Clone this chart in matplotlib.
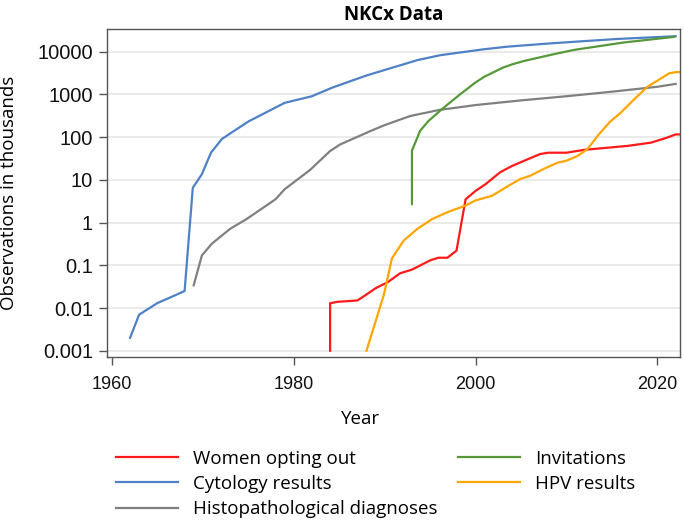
import matplotlib
matplotlib.use("Agg")
from matplotlib import pyplot as plt

# Cumulative observations (thousands) per data source
cyto_years = [1962, 1963, 1965, 1967, 1968, 1968.9, 1969.9, 1970.9, 1972.1, 1975, 1979, 1982,
              1984.3, 1988, 1990, 1993.6, 1996.1, 2000.9, 2003.5, 2008.2, 2011.9, 2015.6, 2019, 2022]
cyto_vals = [0.002, 0.007, 0.013, 0.02, 0.025, 6.5, 13.5, 43, 90, 230, 630, 900,
             1450, 2750, 3700, 6300, 8200, 11300, 13000, 15500, 17500, 19700, 21300, 22800]

histo_years = [1969, 1969.9, 1971, 1973, 1974.8, 1978, 1979, 1981.8, 1984, 1985.1, 1988.4,
               1990, 1992.8, 1996, 1998.3, 2000, 2005, 2010, 2015, 2020, 2022]
histo_vals = [0.034, 0.17, 0.32, 0.71, 1.2, 3.5, 6, 17, 47, 67, 137,
              190, 310, 430, 500, 560, 720, 900, 1150, 1500, 1750]

invit_years = [1993, 1993, 1993.9, 1994.8, 1996.3, 1998.3, 1999, 2000, 2001, 2002, 2003,
               2004, 2005.3, 2008.2, 2010.8, 2016.3, 2021.8]
invit_vals = [2.7, 48, 140, 235, 450, 1000, 1300, 1900, 2600, 3300, 4200,
              5000, 6000, 8300, 10900, 16300, 22000]

optout_years = [1984, 1984, 1984.9, 1987, 1987.9, 1989, 1990.4, 1991.7, 1993, 1995, 1995.9,
                1996.9, 1997.9, 1998.9, 2000, 2001.1, 2002.7, 2004, 2005.7, 2007.1, 2008,
                2010, 2011.9, 2016.7, 2019.3, 2021, 2022, 2022.5]
optout_vals = [0.001, 0.013, 0.014, 0.015, 0.02, 0.029, 0.041, 0.065, 0.079, 0.13, 0.15,
               0.15, 0.22, 3.5, 5.5, 7.9, 15, 21, 30, 40, 43,
               43, 50, 62, 74, 96, 115, 115]

hpv_years = [1988, 1989.9, 1990.8, 1992.1, 1993.6, 1995.2, 1996.9, 1998.9, 2000, 2001.8,
             2003.3, 2004.9, 2006, 2007.5, 2009, 2010, 2011.2, 2012.3, 2013.5, 2014.8,
             2015.9, 2017.4, 2018.9, 2021.3, 2022, 2022.5]
hpv_vals = [0.001, 0.02, 0.145, 0.38, 0.71, 1.2, 1.74, 2.5, 3.3, 4.2,
            6.6, 10.4, 12.4, 18, 25, 28, 36, 52, 112, 230,
            360, 750, 1500, 3100, 3300, 3300]

ytick_vals = [0.001, 0.01, 0.1, 1, 10, 100, 1000, 10000]
ytick_labels = ["0.001", "0.01", "0.1", "1", "10", "100", "1000", "10000"]
xtick_vals = [1960, 1980, 2000, 2020]

label_font = "Open Sans"
tick_font = "Liberation Sans"

fig = plt.figure(figsize=(6.85, 5.24), dpi=100)
ax = fig.add_axes([0.156, 0.319, 0.837, 0.626])

lw = 1.6
ax.plot(optout_years, optout_vals, color="#ff1a1a", lw=lw, label="Women opting out")
ax.plot(cyto_years, cyto_vals, color="#4f81c7", lw=lw, label="Cytology results")
ax.plot(histo_years, histo_vals, color="#808080", lw=lw, label="Histopathological diagnoses")
ax.plot(invit_years, invit_vals, color="#57993a", lw=lw, label="Invitations")
ax.plot(hpv_years, hpv_vals, color="#ffa500", lw=lw, label="HPV results")

ax.set_yscale("log")
ax.set_ylim(0.00072, 34000)
ax.set_xlim(1959.45, 2022.5)
ax.set_yticks(ytick_vals)
ax.set_yticklabels(ytick_labels)
ax.minorticks_off()
ax.set_xticks(xtick_vals)
ax.grid(axis="y", color="#e6e6e6", lw=1.2)
ax.set_axisbelow(True)

for s in ax.spines.values():
    s.set_color("#555555")
    s.set_linewidth(1.0)
ax.tick_params(axis="both", direction="out", length=6, width=1.0, color="#555555",
               labelcolor="#111111")
ax.tick_params(axis="x", pad=8, labelsize=13)
ax.tick_params(axis="y", pad=4, labelsize=14.5)
for lab in ax.get_xticklabels() + ax.get_yticklabels():
    lab.set_fontfamily(tick_font)

ax.set_title("NKCx Data", fontfamily=label_font, fontweight="bold", fontsize=13.5, pad=6)
ax.set_xlabel("Year", fontfamily=label_font, fontsize=13.5)
ax.xaxis.set_label_coords(0.443, -0.163)
ax.set_ylabel("Observations in thousands", fontfamily=label_font, fontsize=13.5)
ax.yaxis.set_label_coords(-0.155, 0.5)

fig.legend(loc="center", bbox_to_anchor=(376 / 685, 1 - 484 / 524), ncol=2,
           frameon=False, prop={"family": label_font, "size": 13.5},
           handlelength=3.3, handletextpad=0.8, columnspacing=1.1, labelspacing=0.38)

plt.savefig("out.png", dpi=100)
